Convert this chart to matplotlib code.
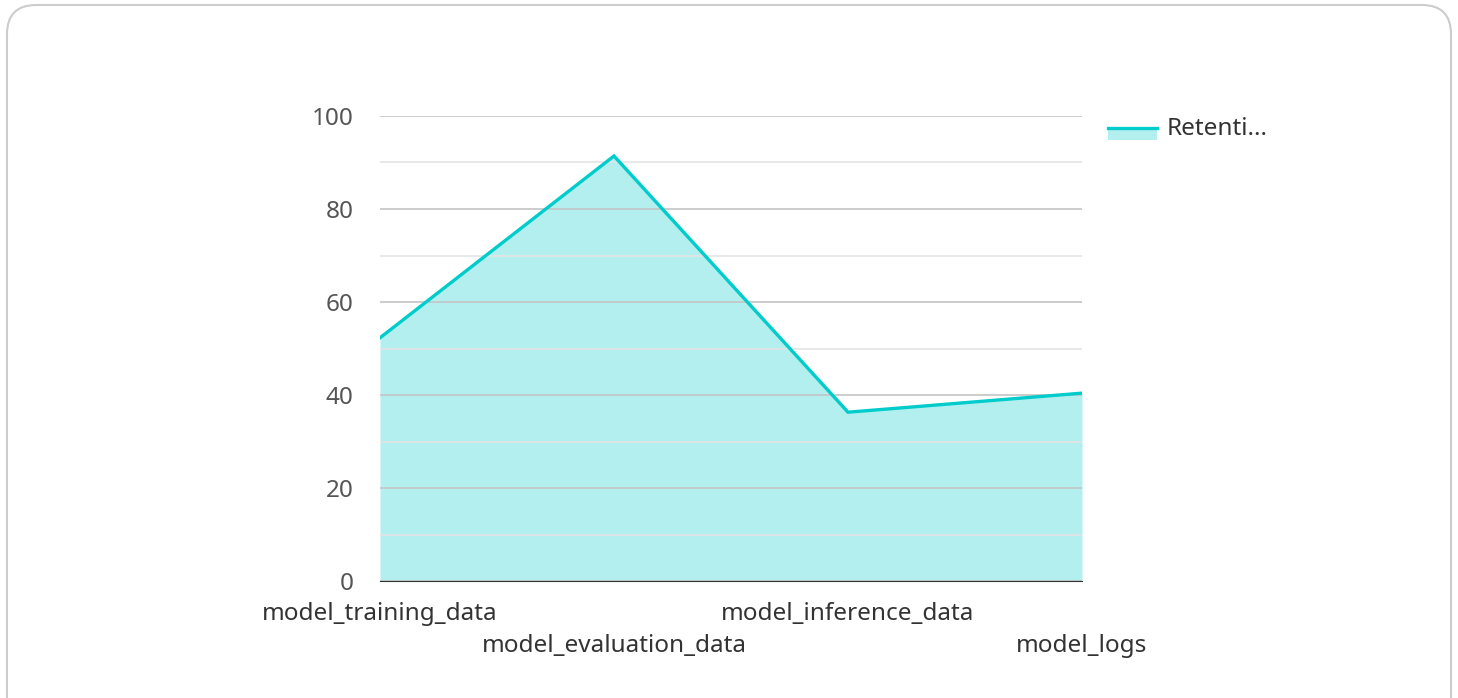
import matplotlib.pyplot as plt
from matplotlib.patches import FancyBboxPatch, Rectangle
from matplotlib.lines import Line2D

plt.rcParams["font.family"] = ["Noto Sans", "DejaVu Sans"]

categories = ["model_training_data", "model_evaluation_data", "model_inference_data", "model_logs"]
retention = [52.3, 91.4, 36.3, 40.4]
series_label = "Retenti..."

LINE = "#00cccc"
FILL = "#b2efee"
FS = 17.5

W, H = 1458, 698
fig = plt.figure(figsize=(W / 100, H / 100), dpi=100)
fig.patch.set_facecolor("white")

# card border
border = FancyBboxPatch((7 / W, -0.05), 1444 / W, (H - 5) / H + 0.05,
                        boxstyle="round,pad=0,rounding_size=0.02",
                        transform=fig.transFigure, fill=False, edgecolor="#cccccc",
                        linewidth=1.5, mutation_aspect=W / H)
fig.patches.append(border)

ax = fig.add_axes([380 / W, 1 - 581 / H, (1082 - 380) / W, (581 - 116) / H])
x = list(range(len(categories)))
ax.fill_between(x, retention, 0, color=FILL, zorder=1, linewidth=0)
ax.plot(x, retention, color=LINE, linewidth=2.4, zorder=3, solid_joinstyle="miter")

ax.set_xlim(0, len(categories) - 1)
ax.set_ylim(0, 100)
ax.set_yticks(range(0, 101, 20))
ax.set_yticks(range(10, 100, 20), minor=True)
ax.grid(axis="y", which="major", color="#c4c4c4", linewidth=1.2, zorder=2)
ax.grid(axis="y", which="minor", color="#e4e4e4", linewidth=1.2, zorder=2)
ax.set_axisbelow(False)
for s in ["top", "right", "left"]:
    ax.spines[s].set_visible(False)
ax.spines["bottom"].set_color("#333333")
ax.spines["bottom"].set_zorder(4)
ax.tick_params(axis="y", which="both", length=0, pad=19, labelsize=FS, labelcolor="#555555")
ax.tick_params(axis="x", length=0)
ax.set_xticks(x)
ax.set_xticklabels([])
for i, c in enumerate(categories):
    yoff = -33 / 465 * 100 if i % 2 == 0 else -65 / 465 * 100
    ax.text(i, yoff, c, ha="center", va="center", fontsize=FS, color="#333333",
            clip_on=False)

# legend
fig.patches.append(Rectangle((1108 / W, 1 - 140 / H), 49 / W, 13 / H,
                             transform=fig.transFigure, facecolor=FILL, edgecolor="none"))
fig.lines.append(Line2D([1108 / W, 1157 / W], [1 - 128 / H, 1 - 128 / H],
                        transform=fig.transFigure, color=LINE, linewidth=2.4))
fig.text(1167 / W, 1 - 129 / H, series_label, ha="left", va="center",
         fontsize=FS, color="#333333")

fig.savefig("out.png", dpi=100, facecolor="white")
